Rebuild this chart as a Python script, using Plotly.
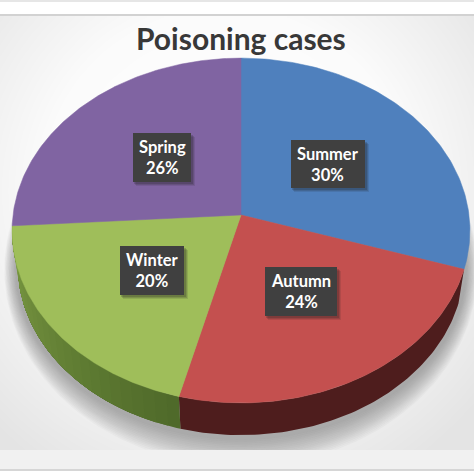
import numpy as np
import plotly.graph_objects as go

categories = ["Summer", "Autumn", "Winter", "Spring"]
values = [30, 24, 20, 26]
colors = ["#4f80bd", "#c4504f", "#9fbe5a", "#8064a2"]
title = "Poisoning cases"

CX, CY, RX, RY, K = 241, 215, 228, 171, 0.09
DEPTH = 35


def project(theta, r=1.0, dy=0.0, sx=1.0, sy=1.0):
    u, v = r * np.sin(theta), r * np.cos(theta)
    w = 1 + K * v
    return CX + RX * sx * u / w, CY + dy - RY * sy * v / w


def mix(a, b, t):
    ca = [int(a[i:i + 2], 16) for i in (1, 3, 5)]
    cb = [int(b[i:i + 2], 16) for i in (1, 3, 5)]
    return "rgb(%d,%d,%d)" % tuple(round(x + (y - x) * t) for x, y in zip(ca, cb))


fig = go.Figure()

# background
gx = np.linspace(0, 474, 60)
gy = np.linspace(16, 470, 60)
gxx, gyy = np.meshgrid(gx, gy)
dist = np.sqrt(((gxx - 225) / 330) ** 2 + ((gyy - 190) / 330) ** 2)
fig.add_trace(go.Heatmap(x=gx, y=gy, z=np.clip(dist, 0, 1), zmin=0, zmax=1, zsmooth="best",
                         showscale=False, hoverinfo="skip",
                         colorscale=[[0, "#ffffff"], [0.55, "#fbfbfb"], [1, "#e4e4e4"]]))

# soft shadow
full = np.linspace(0, 2 * np.pi, 240)
for grow in np.linspace(1.14, 1.0, 16):
    sxs, sys = project(full, dy=DEPTH + 2, sx=0.985 + (grow - 1) * 0.35, sy=grow)
    fig.add_trace(go.Scatter(x=sxs, y=np.minimum(sys, 450), mode="lines", fill="toself",
                             line=dict(width=0), fillcolor="rgba(100,100,100,0.04)",
                             hoverinfo="skip", showlegend=False))

# angles of slice boundaries
total = sum(values)
edges = 2 * np.pi * np.cumsum([0] + values) / total

# side wall: each step overlaps the rest of the slice, so no seams show
wall_styles = {1: ("#4e1d1d", "#4e1d1d"), 2: ("#4f6a2a", "#7b9a42")}
for idx, (c0, c1) in wall_styles.items():
    a0, a1 = edges[idx], edges[idx + 1]
    steps = 24 if c0 != c1 else 1
    for j in range(steps):
        t = np.linspace(a0 + (a1 - a0) * j / steps, a1, 80)
        x1, y1 = project(t)
        x2, y2 = project(t[::-1], dy=DEPTH, sx=0.975, sy=0.985)
        col = mix(c0, c1, j / max(steps - 1, 1))
        fig.add_trace(go.Scatter(x=np.r_[x1, x2], y=np.r_[y1, y2], mode="lines", fill="toself",
                                 line=dict(width=0), fillcolor=col,
                                 hoverinfo="skip", showlegend=False))

# top face slices
for i, name in enumerate(categories):
    t = np.linspace(edges[i], edges[i + 1], 120)
    x, y = project(t)
    fig.add_trace(go.Scatter(x=np.r_[CX, x, CX], y=np.r_[CY, y, CY], mode="lines", fill="toself",
                             line=dict(width=0.5, color=colors[i]), fillcolor=colors[i],
                             name=name, hoverinfo="skip", showlegend=False))

shapes = [
    dict(type="rect", x0=0, x1=474, y0=0, y1=2, fillcolor="#e6e6e6", line_width=0, layer="above"),
    dict(type="rect", x0=0, x1=474, y0=2, y1=14.5, fillcolor="#ffffff", line_width=0, layer="above"),
    dict(type="rect", x0=0, x1=474, y0=14, y1=16, fillcolor="#d2d2d2", line_width=0, layer="above"),
    dict(type="rect", x0=0, x1=474, y0=450, y1=470, fillcolor="#f1f1f1", line_width=0, layer="above"),
    dict(type="rect", x0=0, x1=474, y0=469, y1=471, fillcolor="#d6d6d6", line_width=0, layer="above"),
    dict(type="rect", x0=0, x1=474, y0=471, y1=474, fillcolor="#ffffff", line_width=0, layer="above"),
]

boxes = {"Summer": (291, 365, 140, 188), "Autumn": (265, 337, 267, 316),
         "Winter": (120, 184, 246, 295), "Spring": (133, 191, 133, 182)}
annotations = [dict(x=241, y=38, text="<b>%s</b>" % title, showarrow=False,
                    font=dict(family="Lato", size=30, color="#383838"))]
for name, val in zip(categories, values):
    x0, x1, y0, y1 = boxes[name]
    for off, alpha in [(4, .12), (3, .16), (2, .2)]:
        shapes.append(dict(type="rect", x0=x0 + off - 1, x1=x1 + off, y0=y0 + off, y1=y1 + off,
                           fillcolor="rgba(30,30,30,%.2f)" % alpha, line_width=0, layer="above"))
    shapes.append(dict(type="rect", x0=x0, x1=x1, y0=y0, y1=y1,
                       fillcolor="#404040", line_width=0, layer="above"))
    annotations.append(dict(x=(x0 + x1) / 2, y=(y0 + y1) / 2,
                            text="<b>%s<br>%d%%</b>" % (name, val), showarrow=False,
                            font=dict(family="Lato", size=16.5, color="#ffffff")))

fig.update_layout(
    width=474, height=474, margin=dict(l=0, r=0, t=0, b=0),
    paper_bgcolor="#ffffff", plot_bgcolor="#ffffff", showlegend=False,
    xaxis=dict(range=[0, 474], visible=False, fixedrange=True),
    yaxis=dict(range=[474, 0], visible=False, fixedrange=True),
    shapes=shapes, annotations=annotations,
)
fig.write_html("out.html", config={"displayModeBar": False},
               post_script="document.body.style.margin='0';")
